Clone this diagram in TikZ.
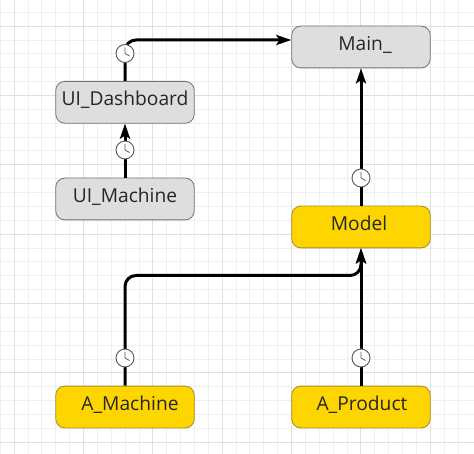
\documentclass[tikz,border=0pt]{standalone}
\usepackage{fontspec}
\setmainfont{Open Sans}
\usetikzlibrary{arrows.meta,calc}
\definecolor{gold}{HTML}{FFD500}
\definecolor{goldedge}{HTML}{A68B28}
\definecolor{gridminor}{HTML}{EFEFEF}
\definecolor{gridmajor}{HTML}{E0E0E0}
\tikzset{x=1pt,y=-1pt,
  box/.style={draw=#1,line width=0.8pt,rounded corners=9pt,minimum width=138.5pt,minimum height=41.8pt,inner sep=0pt,text=black!85,font=\fontsize{19.2pt}{22pt}\selectfont},
  greybox/.style={box=black!55,fill=black!13},
  goldbox/.style={box=goldedge,fill=gold},
  conn/.style={line width=3pt,black,rounded corners=11pt},
  tip/.style={-{Stealth[length=15pt,width=10pt,inset=3pt]}},
  clock/.style={circle,draw=black!65,fill=white,line width=0.9pt,minimum size=18pt,inner sep=0pt}
}
\newcommand{\clockhands}[1]{\draw[black!65,line width=0.8pt] ($(#1)+(0,-6)$) -- (#1) -- ($(#1)+(4.5,2.5)$);}
\newcommand{\lbl}[2]{\hspace*{#1pt}\raisebox{7.5pt}{#2}}
\begin{document}
\begin{tikzpicture}
\useasboundingbox (0,0) rectangle (474,454);
\fill[white] (0,0) rectangle (474,454);
\foreach \i in {0,...,33} \draw[gridminor,line width=0.6pt] ({0.1+13.87*\i},0) -- ({0.1+13.87*\i},454);
\foreach \i in {0,...,32} \draw[gridminor,line width=0.6pt] (0,{12.1+13.87*\i}) -- (474,{12.1+13.87*\i});
\foreach \i in {0,...,6} \draw[gridmajor,line width=0.7pt] ({14+69.33*\i},0) -- ({14+69.33*\i},454);
\foreach \i in {0,...,6} \draw[gridmajor,line width=0.7pt] (0,{26+69.33*\i}) -- (474,{26+69.33*\i});

\node[greybox] (main) at (361,47) {\lbl{8}{Main\_}};
\node[greybox] (dash) at (125,102.3) {\lbl{0}{UI\_Dashboard}};
\node[greybox] (uim) at (125,199) {\lbl{0}{UI\_Machine}};
\node[goldbox] (model) at (361,227) {\lbl{-4}{Model}};
\node[goldbox] (am) at (125,407) {\lbl{10}{A\_Machine}};
\node[goldbox] (ap) at (361,407) {\lbl{2}{A\_Product}};

\coordinate (c1) at (125,53.5);
\coordinate (c2) at (125,150);
\coordinate (c3) at (361,178);
\coordinate (c4) at (125,358);
\coordinate (c5) at (361,358);
\coordinate (mainin) at ($(main.west)+(0,-7)$);
\coordinate (bendtop) at (125,40);
\coordinate (bendl) at (125,275.5);
\coordinate (bendr) at (361,275.5);

\draw[conn,tip] (dash.north) -- (bendtop) -- (mainin);
\draw[conn,tip] (uim.north) -- (dash.south);
\draw[conn,tip] (model.north) -- (main.south);
\draw[conn,tip] (am.north) -- (bendl) -- (bendr) -- (model.south);
\draw[conn,tip] (ap.north) -- (model.south);

\foreach \c in {c1,c2,c3,c4,c5} {
  \node[clock] at (\c) {};
  \clockhands{\c}
}
\end{tikzpicture}
\end{document}
